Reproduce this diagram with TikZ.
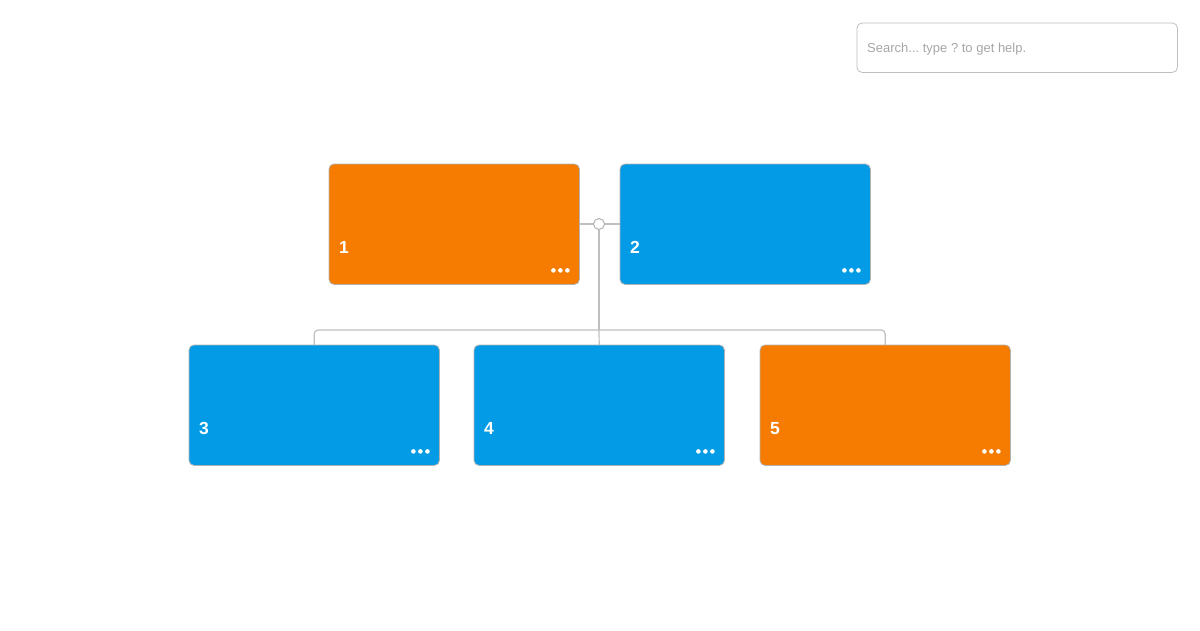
\documentclass[tikz,border=0pt]{standalone}
\usepackage{fontspec}
\setmainfont{Liberation Sans}
\frenchspacing
\begin{document}
\begin{tikzpicture}[x=1pt,y=-1pt,
  card/.style={minimum width=250pt,minimum height=120pt,anchor=north west,inner sep=0pt},
  cardface/.style={draw=black!30,line width=0.8pt,rounded corners=5pt},
  num/.style={text=white,font=\fontsize{17.5}{20}\selectfont\bfseries,anchor=base west,inner sep=0pt},
  dot/.style={circle,fill=white,inner sep=0pt,minimum size=4.6pt},
  link/.style={draw=black!25,line width=1.2pt}]
\definecolor{cOrange}{RGB}{245,124,0}
\definecolor{cBlue}{RGB}{3,155,229}
\useasboundingbox (0,0) rectangle (1200,630);
% search box
\node[minimum width=320pt,minimum height=49pt,anchor=north west,inner sep=0pt] (search) at (857,23) {};
\draw[draw=black!25,line width=0.8pt,rounded corners=5pt] (search.north west) rectangle (search.south east);
\node[anchor=base west,text=black!35,font=\fontsize{13}{15}\selectfont,inner sep=0pt] (searchtext) at (867,52.5) {Search... type ? to get help.};
% cards
\node[card] (n1) at (329,164) {};
\node[card] (n2) at (620,164) {};
\node[card] (n3) at (189,345) {};
\node[card] (n4) at (474,345) {};
\node[card] (n5) at (760,345) {};
\foreach \n/\c in {n1/cOrange,n2/cBlue,n3/cBlue,n4/cBlue,n5/cOrange}{
  \draw[cardface,fill=\c] (\n.north west) rectangle (\n.south east);
}
% connectors
\coordinate (hub) at (599,224);
\coordinate (bar) at (599,330);
\draw[link] (n1.east |- hub) -- (hub);
\draw[link] (hub) -- (n2.west |- hub);
\draw[link] (hub) -- (bar);
\draw[link,rounded corners=4pt] (bar) -| (n3.north);
\draw[link,rounded corners=4pt] (bar) -| (n5.north);
\draw[link] (bar) -- (n4.north);
\node[circle,draw=black!30,fill=white,line width=1pt,minimum size=11pt,inner sep=0pt] (hubc) at (hub) {};
% labels and dots
\foreach \n/\t in {n1/1,n2/2,n3/3,n4/4,n5/5}{
  \node[num] (\n lab) at ([xshift=10pt,yshift=30.5pt]\n.south west) {\t};
  \foreach \k/\dx in {a/-26,b/-19,c/-12}{
    \node[dot] (\n\k) at ([xshift=\dx pt,yshift=14pt]\n.south east) {};
  }
}
\end{tikzpicture}
\end{document}
